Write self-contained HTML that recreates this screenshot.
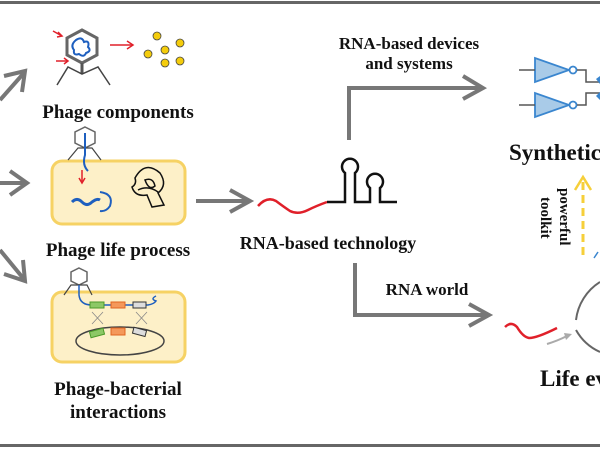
<!DOCTYPE html>
<html><head><meta charset="utf-8"><style>
html,body{margin:0;padding:0;background:#fff;}
svg{display:block;}
text{font-family:"Liberation Serif",serif;font-weight:bold;fill:#111;}
</style></head><body>
<svg width="600" height="450" viewBox="0 0 600 450" xmlns="http://www.w3.org/2000/svg">
<rect width="600" height="450" fill="#fff"/>
<rect x="0" y="1" width="600" height="3" fill="#666"/>
<rect x="0" y="444" width="600" height="3" fill="#666"/>

<!-- left arrows -->
<g stroke="#777" stroke-width="4" fill="none">
<line x1="0" y1="100" x2="23" y2="74"/><polyline points="4,76 25,71 22,92"/>
<line x1="0" y1="183" x2="25" y2="183"/><polyline points="10,171 27,183 10,195"/>
<line x1="0" y1="250" x2="23" y2="278"/><polyline points="4,274 25,281 23,260"/>
</g>

<!-- phage components -->
<g>
<polygon points="82,30 97,38 97,55 82,63 67,55 67,38" fill="#fff" stroke="#666" stroke-width="3"/>
<path d="M76,40 q6,-4 8,2 q6,-2 4,5 q4,4 -2,6 q-2,5 -7,1 q-6,2 -5,-4 q-4,-5 2,-10z" fill="none" stroke="#1e5fbf" stroke-width="2"/>
<line x1="82" y1="63" x2="82" y2="74" stroke="#555" stroke-width="3"/>
<polyline points="57,85 68,67 82,74 98,67 110,85" fill="none" stroke="#444" stroke-width="1.5"/>
<g stroke="#e0202a" stroke-width="1.5" fill="none">
<line x1="53" y1="31" x2="62" y2="36"/><polyline points="58,32 62,36 57,37"/>
<line x1="56" y1="61" x2="68" y2="61"/><polyline points="64,58 68,61 64,64"/>
<line x1="110" y1="45" x2="133" y2="45"/><polyline points="127,41 133,45 127,49"/>
</g>
<g fill="#f4cc0c" stroke="#444" stroke-width="0.8">
<circle cx="157" cy="36" r="4"/><circle cx="180" cy="43" r="4"/><circle cx="165" cy="50" r="4"/>
<circle cx="148" cy="54" r="4"/><circle cx="165" cy="63" r="4"/><circle cx="180" cy="61" r="4"/>
</g>
</g>
<text x="118" y="118" font-size="19" text-anchor="middle">Phage components</text>

<!-- box 2 -->
<rect x="52" y="161" width="133" height="63" rx="10" fill="#fdf0c8" stroke="#f6d264" stroke-width="3"/>
<polygon points="85,127 95,132 95,143 85,148 75,143 75,132" fill="#fff" stroke="#666" stroke-width="1.5"/>
<polyline points="68,160 78,148 92,148 101,160" fill="none" stroke="#444" stroke-width="1.2"/>
<path d="M85,133 L85,155 Q82,165 88,171" fill="none" stroke="#1e5fbf" stroke-width="2"/>
<line x1="82" y1="170" x2="82" y2="182" stroke="#e0202a" stroke-width="1.5"/><polyline points="79,178 82,183 85,178" fill="none" stroke="#e0202a" stroke-width="1.5"/>
<path d="M72,202 q5,-5 10,0 q5,5 10,0 q5,-4 8,-2" fill="none" stroke="#1e5fbf" stroke-width="3"/>
<path d="M100,192 q14,2 10,14 q-4,6 -10,5" fill="none" stroke="#1e5fbf" stroke-width="2"/>
<path d="M135,178 q10,-18 25,-5 q8,12 -2,20 l6,12 -12,2 -5,-12 q-12,2 -15,-8 q5,-3 3,-9z M145,180 q8,-3 10,6 q-6,5 -10,-6z M138,190 q10,-5 20,2" fill="none" stroke="#111" stroke-width="1.5"/>
<text x="118" y="256" font-size="19" text-anchor="middle">Phage life process</text>

<!-- box 3 -->
<rect x="52" y="292" width="133" height="70" rx="10" fill="#fdf0c8" stroke="#f6d264" stroke-width="3"/>
<polygon points="79,268 87,272 87,281 79,285 71,281 71,272" fill="#fff" stroke="#666" stroke-width="1.5"/>
<polyline points="64,295 71,285 87,285 92,295" fill="none" stroke="#444" stroke-width="1.2"/>
<path d="M79,285 L79,295 Q80,305 92,305 L148,305 q6,-1 8,-4 q-6,-2 0,-5" fill="none" stroke="#1e5fbf" stroke-width="1.5"/>
<rect x="90" y="302" width="14" height="6" fill="#8cc866" stroke="#4b9a2a"/>
<rect x="111" y="302" width="14" height="6" fill="#f4985a" stroke="#e06420"/>
<rect x="133" y="302" width="13" height="6" fill="#ddd" stroke="#333"/>
<g stroke="#888" stroke-width="0.8"><line x1="92" y1="312" x2="103" y2="324"/><line x1="103" y1="312" x2="92" y2="324"/><line x1="136" y1="312" x2="147" y2="324"/><line x1="147" y1="312" x2="136" y2="324"/></g>
<ellipse cx="120" cy="341" rx="44" ry="14" fill="none" stroke="#444" stroke-width="1.5"/>
<rect x="90" y="330" width="14" height="6" fill="#8cc866" stroke="#4b9a2a" transform="rotate(-15 97 333)"/>
<rect x="111" y="328" width="14" height="7" fill="#f4985a" stroke="#e06420"/>
<rect x="133" y="329" width="13" height="6" fill="#ddd" stroke="#333" transform="rotate(15 140 332)"/>
<text x="118" y="395" font-size="19" text-anchor="middle">Phage-bacterial</text>
<text x="118" y="418" font-size="19" text-anchor="middle">interactions</text>

<!-- middle arrows -->
<g stroke="#777" stroke-width="4" fill="none">
<line x1="196" y1="201" x2="250" y2="201"/><polyline points="230,190 250,201 230,212"/>
<polyline points="349,140 349,88 482,88"/><polyline points="463,76 483,88 463,99"/>
<polyline points="355,263 355,315 488,315"/><polyline points="469,304 489,315 469,326"/>
</g>
<path d="M258,206 q9,-10 18,-5 q8,6 14,10 q8,4 18,-1 q8,-4 19,-8" fill="none" stroke="#e0202a" stroke-width="2.5"/>
<path d="M327,202 L345,202 L345,173 a8,8 0 1 1 10,0 L355,202 L370,202 L370,188 a8,8 0 1 1 10,0 L380,202 L397,202" fill="none" stroke="#111" stroke-width="2.5"/>
<text x="328" y="249" font-size="18" text-anchor="middle">RNA-based technology</text>
<text x="409" y="49" font-size="17" text-anchor="middle">RNA-based devices</text>
<text x="409" y="69" font-size="17" text-anchor="middle">and systems</text>
<text x="427" y="295" font-size="17" text-anchor="middle">RNA world</text>

<!-- logic gates -->
<g stroke="#3a86cf" stroke-width="1.8" fill="#a9cbe8">
<polygon points="535,58 535,82 569,70"/><polygon points="535,93 535,117 569,105"/>
<circle cx="573" cy="70" r="3.5" fill="#fff"/><circle cx="573" cy="105" r="3.5" fill="#fff"/>
</g>
<g stroke="#555" stroke-width="1.5" fill="none">
<line x1="519" y1="70" x2="535" y2="70"/><line x1="519" y1="105" x2="535" y2="105"/>
<polyline points="577,70 586,70 586,82 600,82"/><polyline points="577,105 586,105 586,93 600,93"/>
</g>
<polygon points="596,79 600,76 600,84" fill="#3a86cf"/><polygon points="596,96 600,92 600,100" fill="#3a86cf"/>
<text x="509" y="160" font-size="23">Synthetic</text>

<line x1="583" y1="255" x2="583" y2="182" stroke="#f6cf3a" stroke-width="3" stroke-dasharray="8,5"/>
<polyline points="575,190 583,177 591,190" fill="none" stroke="#f6cf3a" stroke-width="2.5"/>
<text font-size="15" transform="translate(560,188) rotate(90)">powerful</text>
<text font-size="15" transform="translate(541,197) rotate(90)">toolkit</text>
<path d="M598,252 l-4,6" stroke="#3a86cf" stroke-width="1.5"/>

<!-- life evolution -->
<path d="M576,320 A52,52 0 0 1 600,282" fill="none" stroke="#666" stroke-width="2"/>
<path d="M576,330 A52,52 0 0 0 600,352" fill="none" stroke="#666" stroke-width="2"/>
<path d="M505,327 q6,-6 12,0 q6,10 12,11 q8,0 28,-10" fill="none" stroke="#e0202a" stroke-width="2.5"/>
<path d="M547,344 q10,-3 20,-8" fill="none" stroke="#aaa" stroke-width="2"/>
<polygon points="564,333 572,334 566,340" fill="#aaa"/>
<text x="540" y="386" font-size="23">Life ev</text>
</svg>
</body></html>
